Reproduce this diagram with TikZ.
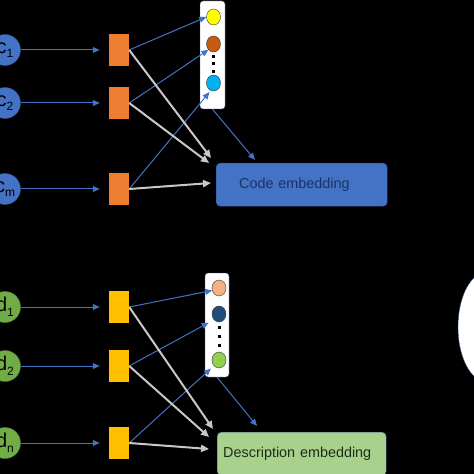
\documentclass[tikz,border=0pt]{standalone}
\usepackage{fontspec}
\setmainfont{Liberation Sans}
\usetikzlibrary{arrows.meta,calc,positioning,shapes.geometric}
\definecolor{codeblue}{RGB}{68,114,196}
\definecolor{codeedge}{RGB}{47,82,143}
\definecolor{codetext}{RGB}{28,50,100}
\definecolor{tokorange}{RGB}{237,125,49}
\definecolor{tokgold}{RGB}{255,192,0}
\definecolor{tokgreen}{RGB}{112,173,71}
\definecolor{descgreen}{RGB}{169,209,142}
\definecolor{desctext}{RGB}{30,45,20}
\definecolor{arrgray}{RGB}{200,200,200}
\definecolor{vyellow}{RGB}{255,255,0}
\definecolor{vbrown}{RGB}{197,90,17}
\definecolor{vcyan}{RGB}{0,176,240}
\definecolor{vpeach}{RGB}{244,177,131}
\definecolor{vnavy}{RGB}{31,78,121}
\definecolor{vlime}{RGB}{146,208,80}

\newcommand{\tok}[2]{#1\raisebox{-0.45ex}{\fontsize{12bp}{12bp}\selectfont #2}}

\begin{document}
\begin{tikzpicture}[x=1bp,y=-1bp,
  tokcirc/.style={circle,fill=#1,draw=#1!75!black,minimum size=31bp,inner sep=0pt,
    font=\fontsize{20bp}{20bp}\selectfont},
  tokbox/.style={rectangle,fill=#1,minimum width=20bp,minimum height=32bp,inner sep=0pt},
  vecbox/.style={rectangle,rounded corners=3bp,fill=white,draw=codeedge,thin},
  vdot/.style={ellipse,fill=#1,draw=black!80,thin,minimum width=14bp,minimum height=16bp,inner sep=0pt},
  embbox/.style={rectangle,rounded corners=4bp,minimum height=43bp,align=left,
    anchor=north west,font=\fontsize{14.4bp}{17bp}\selectfont},
  bluearr/.style={draw=codeblue,line width=1bp,-{Triangle[length=7bp,width=6bp]}},
  grayarr/.style={draw=arrgray,line width=2bp,-{Triangle[length=8bp,width=7bp]}},
  simline/.style={draw=arrgray,line width=1.5bp}]
  \useasboundingbox (0,0) rectangle (474,474);
  \clip (0,0) rectangle (474,474);
  \fill[black] (0,0) rectangle (474,474);

  % Code tokens and their vectors
  \foreach \n/\y in {1/50,2/103,m/189} {
    \node[tokcirc=codeblue] (c\n) at (5,\y) {\tok{c}{\n}};
    \node[tokbox=tokorange] (e\n) at (119,\y) {};
    \draw[bluearr,shorten >=9bp] (c\n.east) -- (c\n.east -| e\n.west);
  }

  % Description tokens and their vectors
  \foreach \n/\y in {1/307,2/366,n/443} {
    \node[tokcirc=tokgreen] (d\n) at (5,\y) {\tok{d}{\n}};
    \node[tokbox=tokgold] (f\n) at (119,\y) {};
    \draw[bluearr,shorten >=9bp] (d\n.east) -- (d\n.east -| f\n.west);
  }

  % Attention vectors
  \node[vecbox,minimum width=25bp,minimum height=108bp] (vc) at (212.5,55) {};
  \node[vdot=vyellow] (vc1) at (213.5,17) {};
  \node[vdot=vbrown] (vc2) at (213.5,44) {};
  \node[vdot=vcyan] (vc3) at (213.5,83) {};
  \foreach \y in {57,64,72} \fill (213.5,\y) +(-1.5,-1.5) rectangle +(1.5,1.5);

  \node[vecbox,minimum width=24bp,minimum height=104bp] (vd) at (217,325) {};
  \node[vdot=vpeach] (vd1) at (219,288) {};
  \node[vdot=vnavy] (vd2) at (219,314) {};
  \node[vdot=vlime] (vd3) at (219,360) {};
  \foreach \y in {327,336,345} \fill (219,\y) +(-1.5,-1.5) rectangle +(1.5,1.5);

  % Embeddings
  \node[embbox,fill=codeblue,draw=codeedge,text=codetext,text width=125bp,inner xsep=23bp]
    (code) at (216,163) {Code embedding};
  \node[embbox,fill=descgreen,draw=codeedge,text=desctext,text width=157bp,inner xsep=6bp]
    (desc) at (217,432) {Description embedding};

  % Similarity
  \node[ellipse,fill=white,draw=codeedge,minimum width=58bp,minimum height=110bp] (sim) at (487,327) {};
  \coordinate (simR) at (490,0);

  % Arrows to the vectors
  \draw[bluearr] (e1.east) -- (vc1.west);
  \draw[bluearr] (e2.east) -- (vc2.south west);
  \draw[bluearr,shorten >=2bp] (em.east) -- (vc3.-110);
  \draw[bluearr] (f1.east) -- (vd1.200);
  \draw[bluearr,shorten >=6bp] (f2.east) -- (vd2.south west);
  \draw[bluearr,shorten >=4bp] (fn.east) -- (vd3.south west);

  % Arrows to the embeddings
  \draw[grayarr] (e1.east) -- ($(code.north west)+(-5,-5)$);
  \draw[grayarr] (e2.east) -- ($(code.north west)+(-7,0)$);
  \draw[grayarr] (em.east) -- ($(code.north west)+(-5,20)$);
  \draw[bluearr] (vc.south) -- ($(code.north west)+(39,-3)$);

  \draw[grayarr] (f1.east) -- ($(desc.north west)+(-4,-3)$);
  \draw[grayarr] (f2.east) -- ($(desc.north west)+(-8,5)$);
  \draw[grayarr] (fn.east) -- ($(desc.north west)+(-8,17)$);
  \draw[bluearr] (vd.south) -- ($(desc.north west)+(40,-6)$);

  % Lines to the similarity
  \draw[simline] ($(code.east)+(18,-2)$) -- ($(code.east)+(18,-2)$ -| simR);
  \draw[simline] ($(desc.east)+(12,5)$) -- ($(desc.east)+(12,5)$ -| simR);
\end{tikzpicture}
\end{document}
